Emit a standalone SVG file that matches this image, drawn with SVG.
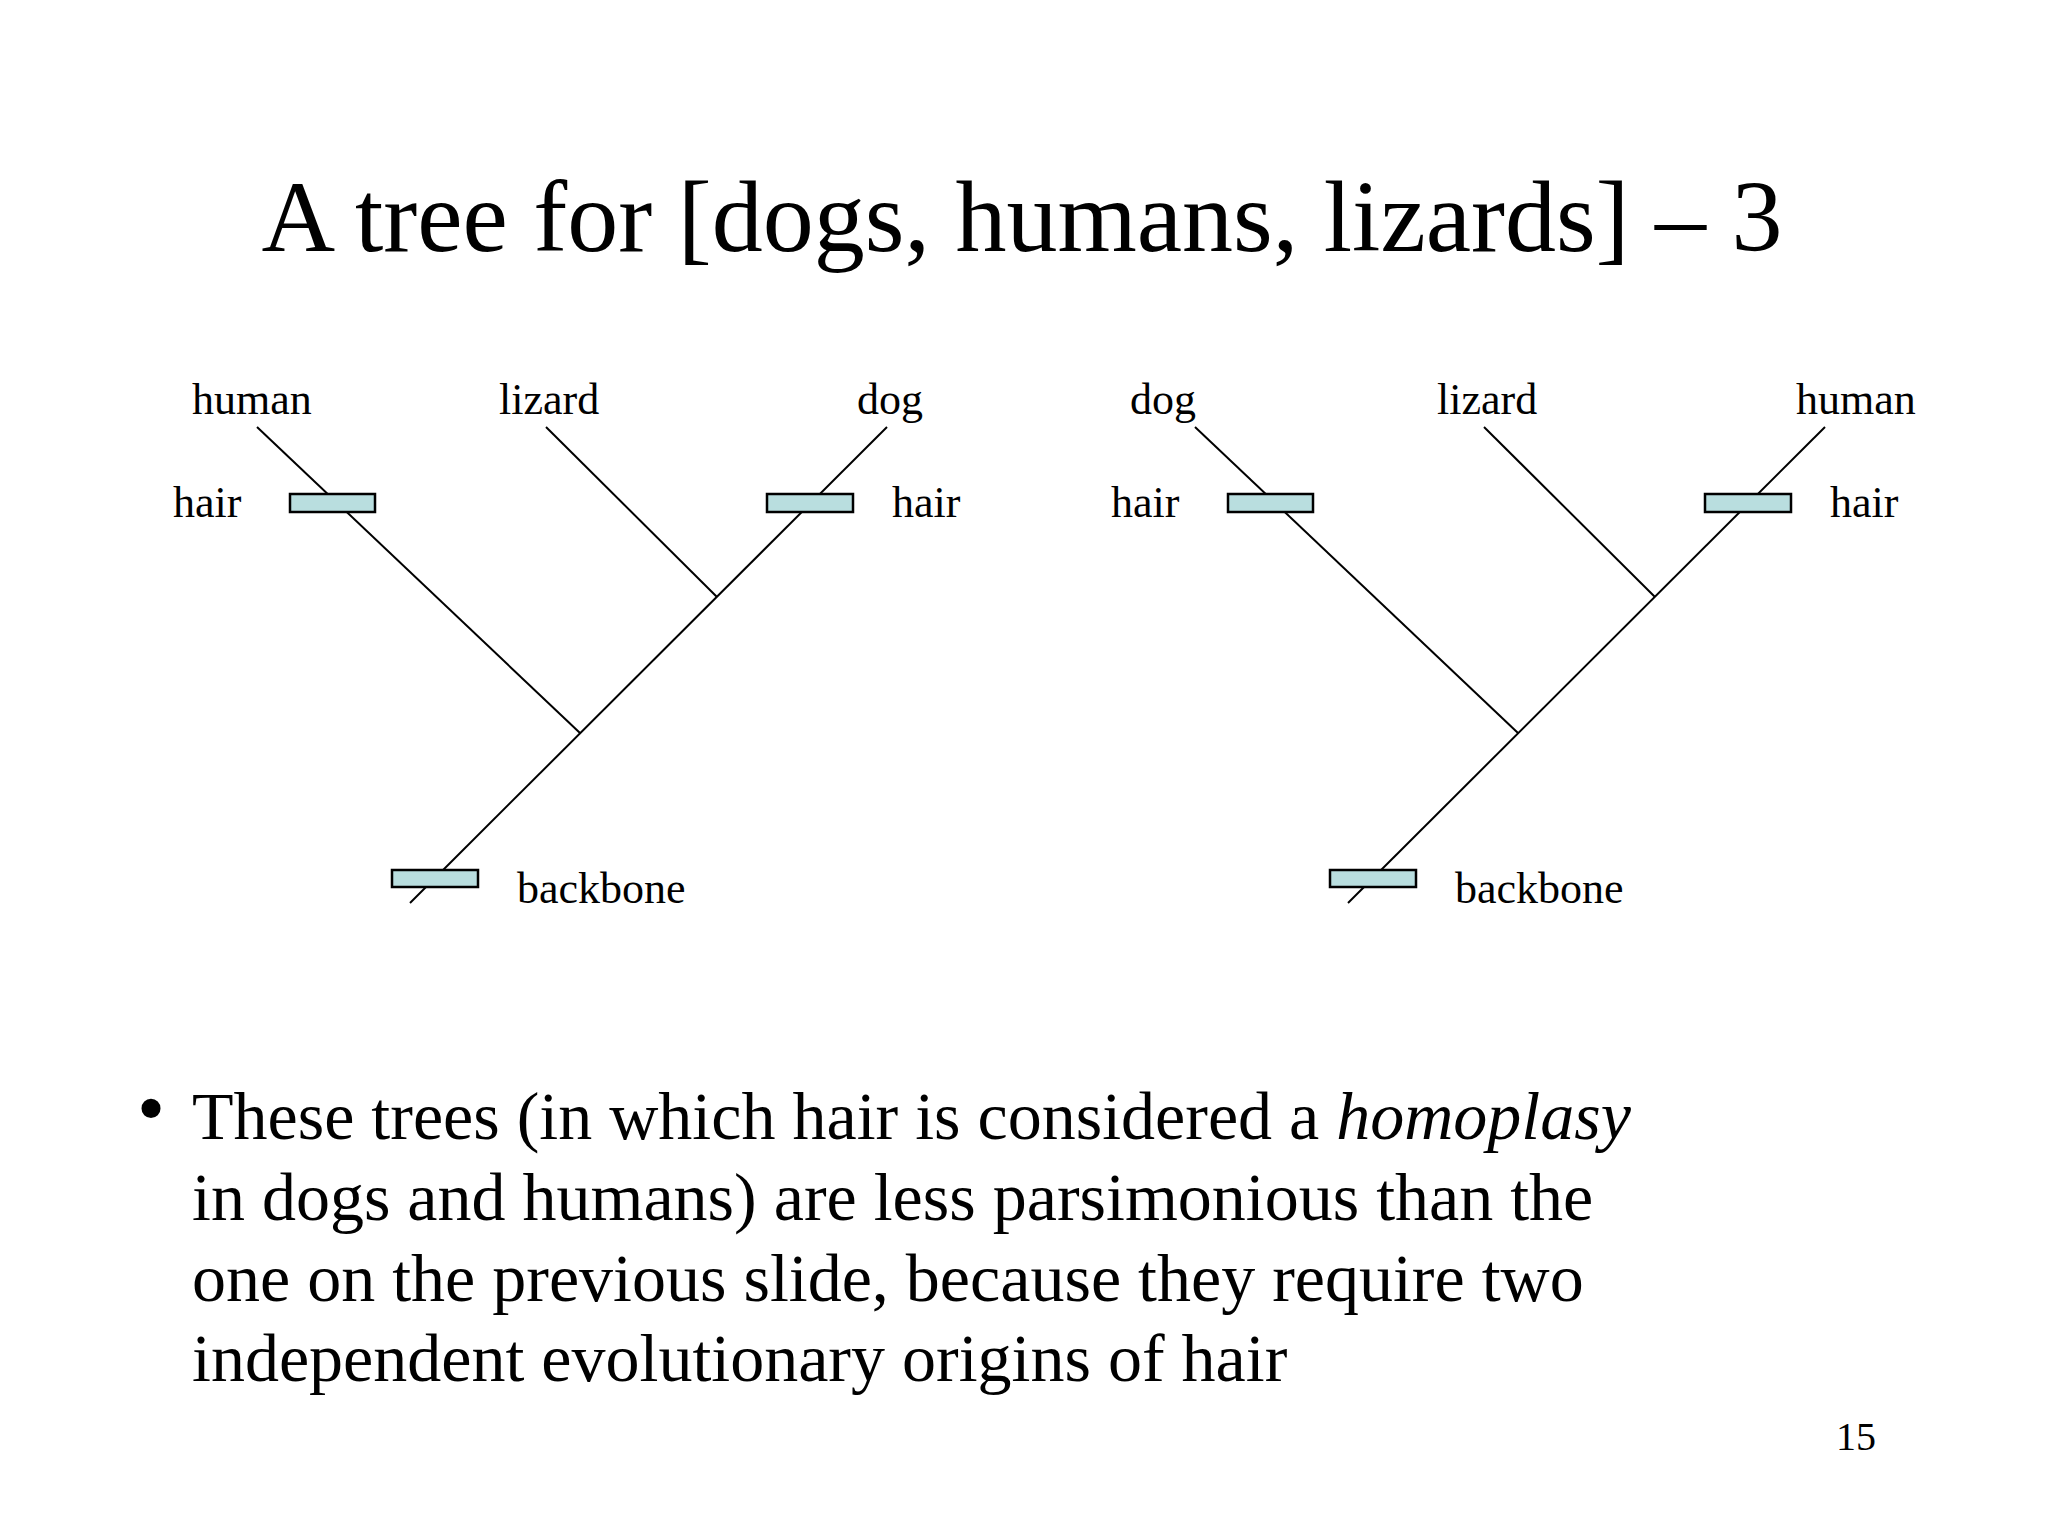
<svg xmlns="http://www.w3.org/2000/svg" width="2048" height="1536" viewBox="0 0 2048 1536">
<style>
.t{font-family:"Liberation Serif","Times New Roman",serif;fill:#000}
.lbl{font-size:44px}
.ln{stroke:#000;stroke-width:2;fill:none}
.bar{fill:#b9dedf;stroke:#000;stroke-width:2.5}
</style>
<rect width="2048" height="1536" fill="#fff"/>
<text class="t" x="1022" y="251" font-size="102" text-anchor="middle">A tree for [dogs, humans, lizards] – 3</text>
<g id="connectors">
<line class="ln" x1="257" y1="427" x2="580" y2="733"/>
<line class="ln" x1="546" y1="427" x2="717" y2="597"/>
<line class="ln" x1="410" y1="903" x2="887" y2="427"/>
<line class="ln" x1="1195" y1="427" x2="1518" y2="733"/>
<line class="ln" x1="1484" y1="427" x2="1655" y2="597"/>
<line class="ln" x1="1348" y1="903" x2="1825" y2="427"/>
</g>
<g id="tree1">
<g id="t1-human"><text class="t lbl" x="192" y="414">human</text></g>
<g id="t1-lizard"><text class="t lbl" x="499" y="414">lizard</text></g>
<g id="t1-dog"><text class="t lbl" x="857" y="414">dog</text></g>
<g id="t1-hair-left"><rect class="bar" x="290" y="494" width="85" height="18"/><text class="t lbl" x="173" y="517">hair</text></g>
<g id="t1-hair-right"><rect class="bar" x="767" y="494" width="86" height="18"/><text class="t lbl" x="892" y="517">hair</text></g>
<g id="t1-backbone"><rect class="bar" x="392" y="870" width="86" height="17"/><text class="t lbl" x="517" y="903">backbone</text></g>
</g>
<g id="tree2">
<g id="t2-dog"><text class="t lbl" x="1130" y="414">dog</text></g>
<g id="t2-lizard"><text class="t lbl" x="1437" y="414">lizard</text></g>
<g id="t2-human"><text class="t lbl" x="1796" y="414">human</text></g>
<g id="t2-hair-left"><rect class="bar" x="1228" y="494" width="85" height="18"/><text class="t lbl" x="1111" y="517">hair</text></g>
<g id="t2-hair-right"><rect class="bar" x="1705" y="494" width="86" height="18"/><text class="t lbl" x="1830" y="517">hair</text></g>
<g id="t2-backbone"><rect class="bar" x="1330" y="870" width="86" height="17"/><text class="t lbl" x="1455" y="903">backbone</text></g>
</g>
<g id="body">
<text class="t" x="137" y="1135" font-size="80">•</text>
<text class="t" font-size="68">
<tspan x="192" y="1139">These trees (in which hair is considered a <tspan font-style="italic">homoplasy</tspan></tspan>
<tspan x="192" y="1220">in dogs and humans) are less parsimonious than the</tspan>
<tspan x="192" y="1301">one on the previous slide, because they require two</tspan>
<tspan x="192" y="1381">independent evolutionary origins of hair</tspan>
</text>
</g>
<text class="t" x="1876" y="1450" font-size="40" text-anchor="end">15</text>
</svg>
